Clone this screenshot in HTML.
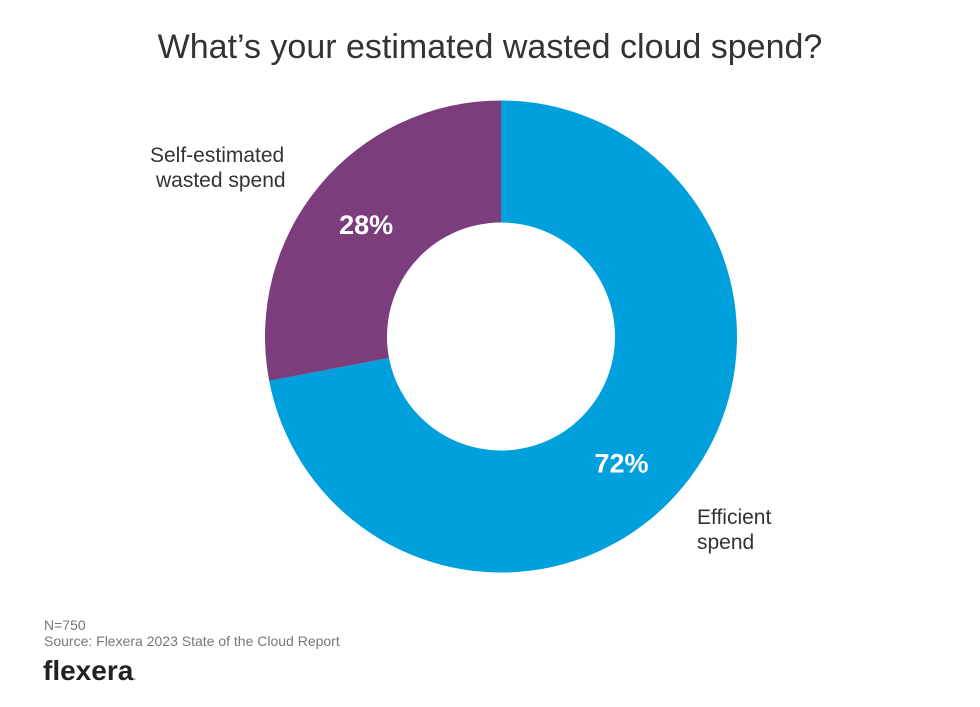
<!DOCTYPE html>
<html><head><meta charset="utf-8"><style>
body{margin:0;background:#fff;}
svg{display:block;font-family:"Liberation Sans",sans-serif;}
</style></head><body>
<svg id="chart" width="980" height="707">
<text x="490" y="58" text-anchor="middle" font-size="34" fill="#333">What’s your estimated wasted cloud spend?</text>
<g id="slices"></g>
<text x="150" y="162" font-size="21" fill="#333"><tspan x="150">Self-estimated</tspan><tspan x="156" dy="25">wasted spend</tspan></text>
<text x="697" y="524" font-size="21" fill="#333"><tspan x="697">Efficient</tspan><tspan x="697" dy="25">spend</tspan></text>
<text x="44" y="630" font-size="14" fill="#777">N=750</text>
<text x="44" y="646" font-size="14" fill="#777">Source: Flexera 2023 State of the Cloud Report</text>
<text x="43" y="680" font-size="28" font-weight="bold" fill="#222">flexera<tspan font-size="10" fill="#999">.</tspan></text>
</svg>
<script>
const categories=["Efficient spend","Self-estimated wasted spend"];
const values=[72,28];
const valueLabels=["72%","28%"];
const colors=["#00a0dc","#7b3d7b"];
const cx=501,cy=336.5,R=236,r=114;
const g=document.getElementById('slices');
const ns="http://www.w3.org/2000/svg";
const total=values.reduce((a,b)=>a+b,0);
let start=0;
function pt(a,rad){return [cx+rad*Math.sin(a),cy-rad*Math.cos(a)];}
values.forEach((v,i)=>{
  const a0=start/total*2*Math.PI, a1=(start+v)/total*2*Math.PI;
  const large=(a1-a0)>Math.PI?1:0;
  const [x0,y0]=pt(a0,R),[x1,y1]=pt(a1,R),[x2,y2]=pt(a1,r),[x3,y3]=pt(a0,r);
  const p=document.createElementNS(ns,'path');
  p.setAttribute('d',`M${x0},${y0}A${R},${R} 0 ${large} 1 ${x1},${y1}L${x2},${y2}A${r},${r} 0 ${large} 0 ${x3},${y3}Z`);
  p.setAttribute('fill',colors[i]);
  
  
  g.appendChild(p);
  const am=(a0+a1)/2;
  const off=i===0?0.12:0;
  const [tx,ty]=pt(am+off,(R+r)/2);
  const t=document.createElementNS(ns,'text');
  t.setAttribute('x',tx);t.setAttribute('y',ty+9);
  t.setAttribute('text-anchor','middle');t.setAttribute('font-size','27');
  t.setAttribute('font-weight','bold');
  t.setAttribute('fill','#fff');
  t.textContent=valueLabels[i];
  
  
  g.appendChild(t);
  start+=v;
});
</script>
</body></html>
